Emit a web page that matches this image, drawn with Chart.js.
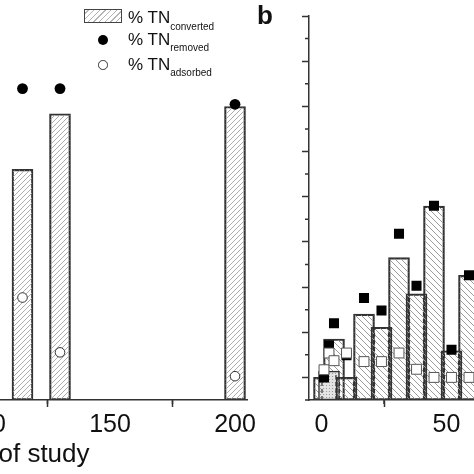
<!DOCTYPE html>
<html>
<head>
<meta charset="utf-8">
<script src="https://cdn.jsdelivr.net/npm/chart.js@4.4.0/dist/chart.umd.min.js"></script>
<style>
  html, body { margin: 0; padding: 0; width: 474px; height: 474px; overflow: hidden; background: #fff; }
  #wrap { position: relative; width: 474px; height: 474px; overflow: hidden; font-family: 'Liberation Sans', Arial, sans-serif; color: #111; }
  #leftBox { position: absolute; left: -330px; top: 0; width: 600px; height: 474px; }
  #rightBox { position: absolute; left: 250px; top: 0; width: 300px; height: 474px; }
  .leg { position: absolute; left: 128px; font-size: 17px; line-height: 1; white-space: nowrap; z-index: 2; }
  .leg span { font-size: 10px; position: relative; top: 6.7px; }
  .swatch { position: absolute; left: 84px; top: 9px; width: 38px; height: 14px; box-sizing: border-box;
            border: 1.5px solid #444; z-index: 2;
            background: repeating-linear-gradient(-45deg, #fff 0 3px, #b5b5b5 3px 4px); }
  .dot { position: absolute; border-radius: 50%; box-sizing: border-box; z-index: 2; }
  #panelB { position: absolute; left: 257px; top: 2px; font-size: 26px; font-weight: bold; line-height: 1; z-index: 2; }
</style>
</head>
<body>
<div id="wrap">
  <div id="leftBox"><canvas id="leftChart"></canvas></div>
  <div id="rightBox"><canvas id="rightChart"></canvas></div>

  <div class="swatch"></div>
  <div class="leg" style="top:9px">% TN<span>converted</span></div>
  <div class="dot" style="left:97.8px; top:35px; width:10px; height:10px; background:#000"></div>
  <div class="leg" style="top:30.6px">% TN<span>removed</span></div>
  <div class="dot" style="left:98px; top:60.3px; width:9.5px; height:9.5px; background:#fff; border:1px solid #333"></div>
  <div class="leg" style="top:55.6px">% TN<span>adsorbed</span></div>
  <div id="panelB">b</div>
</div>

<script>
// panel a (right part only visible)
const leftDays = [115, 130, 200];
const leftConverted = [46.3, 58.7, 60.3];
const leftRemoved = [64.3, 64.3, 60.8];
const leftAdsorbed = [17.8, 5.6, 0.3];

// panel b
const rightDaysSolid = [1, 5, 17, 31, 45, 59];
const rightConvSolid = [0, 8.5, 14.0, 26.5, 37.9, 22.6];
const rightDaysDash = [10, 24, 38, 52];
const rightConvDash = [0, 11.1, 18.5, 5.9];
const rightDaysStip = [3];
const rightConvStip = [1.4];
const rightDays = [1, 3, 5, 10, 17, 24, 31, 38, 45, 52, 59];
const rightRemoved = [0, 7.1, 12.0, 4.9, 17.6, 14.8, 31.8, 20.3, 38.0, 6.1, 22.6];
const rightAdsorbed = [1.7, 5.4, 3.7, 5.4, 3.5, 3.5, 5.4, 1.8, 0, 0, 0];

// ticks
const leftMinorX = [25, 75, 125, 175];
const rightMinorX = [25, 75];
const minorY = [5, 15, 25, 35, 45, 55, 65, 75];

Chart.defaults.font.family = "'Liberation Sans', Arial, sans-serif";
Chart.defaults.color = '#111';

function pts(xs, ys) {
  return xs.map((x, i) => ({ x: x, y: ys[i] }));
}

function hatch(dir, size, color, width) {
  const c = document.createElement('canvas');
  c.width = size;
  c.height = size;
  const g = c.getContext('2d');
  g.strokeStyle = color;
  g.lineWidth = width;
  g.beginPath();
  if (dir === '/') {
    g.moveTo(0, size); g.lineTo(size, 0);
    g.moveTo(-1, 1); g.lineTo(1, -1);
    g.moveTo(size - 1, size + 1); g.lineTo(size + 1, size - 1);
  } else {
    g.moveTo(0, 0); g.lineTo(size, size);
    g.moveTo(size - 1, -1); g.lineTo(size + 1, 1);
    g.moveTo(-1, size - 1); g.lineTo(1, size + 1);
  }
  g.stroke();
  return g.createPattern(c, 'repeat');
}

function stipple() {
  const c = document.createElement('canvas');
  c.width = 3;
  c.height = 3;
  const g = c.getContext('2d');
  g.fillStyle = '#e4e4e4';
  g.fillRect(0, 0, 3, 3);
  g.fillStyle = '#9a9a9a';
  g.fillRect(1, 1, 1, 1);
  return g.createPattern(c, 'repeat');
}

// short ticks between the labelled ones; axisStub extends the x axis past the y axis (Origin style)
function minorTicks(xVals, yVals, axisStub) {
  return {
    id: 'minorTicks',
    afterDraw(chart) {
      const ctx = chart.ctx;
      const area = chart.chartArea;
      const sx = chart.scales.x, sy = chart.scales.y;
      ctx.save();
      ctx.strokeStyle = '#333';
      ctx.lineWidth = 1.5;
      ctx.beginPath();
      xVals.forEach(v => {
        const px = sx.getPixelForValue(v);
        ctx.moveTo(px, area.bottom);
        ctx.lineTo(px, area.bottom + 4);
      });
      yVals.forEach(v => {
        const py = sy.getPixelForValue(v);
        ctx.moveTo(area.left, py);
        ctx.lineTo(area.left - 4, py);
      });
      if (axisStub) {
        ctx.moveTo(area.left - axisStub, area.bottom);
        ctx.lineTo(area.left, area.bottom);
      }
      ctx.stroke();
      ctx.restore();
    }
  };
}

const innerDash = {
  id: 'innerDash',
  afterDatasetDraw(chart, args) {
    const ds = chart.data.datasets[args.index];
    if (!ds.innerDash) return;
    const ctx = chart.ctx;
    ctx.save();
    ctx.strokeStyle = '#333';
    ctx.lineWidth = 1.2;
    ctx.setLineDash([4, 3]);
    args.meta.data.forEach(el => {
      const p = el.getProps(['x', 'y', 'base', 'width'], true);
      const l = p.x - p.width / 2 + 3.5;
      const r = p.x + p.width / 2 - 3.5;
      ctx.beginPath();
      ctx.moveTo(l, p.base); ctx.lineTo(l, p.y);
      ctx.moveTo(r, p.base); ctx.lineTo(r, p.y);
      ctx.stroke();
    });
    ctx.restore();
  }
};

function axes(xMin, xMax, showY, titleText) {
  return {
    x: {
      type: 'linear', min: xMin, max: xMax, offset: false,
      border: { color: '#333', width: 1.5 },
      grid: { drawOnChartArea: false, tickLength: 7, tickColor: '#333', tickWidth: 1.5 },
      ticks: { stepSize: 50, includeBounds: false, padding: 3, color: '#111', font: { size: 25 }, maxRotation: 0, autoSkip: false },
      title: { display: !!titleText, text: titleText || '', color: '#111', font: { size: 26 }, padding: { top: 0, bottom: 4 } },
      afterFit: s => { s.height = 74; }
    },
    y: {
      min: -5, max: 80,
      border: { color: '#333', width: 1.5 },
      grid: { drawOnChartArea: false, tickLength: 7, tickColor: '#333', tickWidth: 1.5 },
      ticks: { stepSize: 10, includeBounds: false, display: showY, color: '#111', font: { size: 25 } },
      afterFit: s => { s.width = showY ? 65 : 59; }
    }
  };
}

const baseOptions = {
  responsive: true,
  maintainAspectRatio: false,
  animation: false,
  events: [],
  plugins: { legend: { display: false }, tooltip: { enabled: false } }
};

new Chart(document.getElementById('leftChart'), {
  type: 'bar',
  data: {
    datasets: [
      { type: 'scatter', data: pts(leftDays, leftAdsorbed), pointStyle: 'circle', pointRadius: 4.8,
        backgroundColor: '#fff', borderColor: '#333', borderWidth: 1 },
      { type: 'scatter', data: pts(leftDays, leftRemoved), pointStyle: 'circle', pointRadius: 5.4,
        backgroundColor: '#000', borderColor: '#000', borderWidth: 0 },
      { type: 'bar', data: pts(leftDays, leftConverted), base: -5, grouped: false, barThickness: 21,
        backgroundColor: hatch('/', 5, '#adadad', 1), borderColor: '#333', borderWidth: 1.5, borderSkipped: false }
    ]
  },
  options: Object.assign({}, baseOptions, {
    layout: { padding: { top: 16, right: 22.5, left: 0, bottom: 0 } },
    scales: axes(0, 205, true, 'Duration of study')
  }),
  plugins: [minorTicks(leftMinorX, minorY, 0)]
});

new Chart(document.getElementById('rightChart'), {
  type: 'bar',
  data: {
    datasets: [
      { type: 'scatter', data: pts(rightDays, rightAdsorbed), pointStyle: 'rect', pointRadius: 7,
        backgroundColor: '#fff', borderColor: '#555', borderWidth: 1 },
      { type: 'scatter', data: pts(rightDays, rightRemoved), pointStyle: 'rect', pointRadius: 7.1,
        backgroundColor: '#000', borderColor: '#000', borderWidth: 0 },
      { type: 'bar', data: pts(rightDaysDash, rightConvDash), base: -5, grouped: false, barThickness: 21, innerDash: true,
        backgroundColor: hatch('\\', 6, '#9d9d9d', 1), borderColor: '#333', borderWidth: 1.5, borderSkipped: false },
      { type: 'bar', data: pts(rightDaysStip, rightConvStip), base: -5, grouped: false, barThickness: 21, innerDash: true,
        backgroundColor: stipple(), borderColor: '#333', borderWidth: 1.5, borderSkipped: false },
      { type: 'bar', data: pts(rightDaysSolid, rightConvSolid), base: -5, grouped: false, barThickness: 21,
        backgroundColor: hatch('\\', 6, '#9d9d9d', 1), borderColor: '#333', borderWidth: 1.5, borderSkipped: false }
    ]
  },
  options: Object.assign({}, baseOptions, {
    layout: { padding: { top: 16, right: 28.5, left: 0, bottom: 0 } },
    scales: axes(-5, 80, false, '')
  }),
  plugins: [minorTicks(rightMinorX, minorY, 4), innerDash]
});
</script>
</body>
</html>
